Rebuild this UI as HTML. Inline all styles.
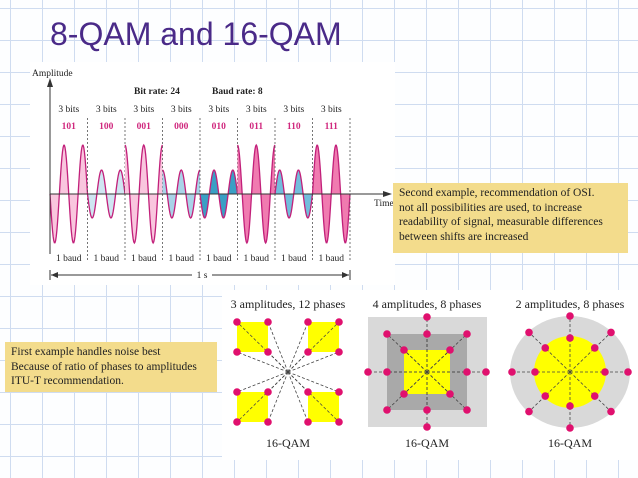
<!DOCTYPE html>
<html><head><meta charset="utf-8"><style>
body{margin:0;width:638px;height:478px;overflow:hidden;background:#fff;font-family:"Liberation Serif",serif}
.grid{position:absolute;left:0;top:0;width:638px;height:478px;background-color:#fdfeff;
background-image:linear-gradient(#cfdcf0 1px,transparent 1px),linear-gradient(90deg,#cfdcf0 1px,transparent 1px);background-size:32px 32px;background-position:10px 8px}
.box{position:absolute;background:#f3dc8c;font-size:11.5px;line-height:14.5px;color:#222;padding:3px 6px;box-sizing:border-box}
h1{position:absolute;left:50px;top:16px;margin:0;font:32px "Liberation Sans",sans-serif;color:#4a2a88}
</style></head><body>
<div class="grid"></div>
<h1>8-QAM and 16-QAM</h1>
<svg id="wave" style="position:absolute;left:0;top:0" width="638" height="478"></svg>
<div class="box" style="left:393px;top:183px;width:235px;height:70px">Second example, recommendation of OSI.<br>not all possibilities are used, to increase readability of signal, measurable differences between shifts are increased</div>
<div class="box" style="left:5px;top:342px;width:212px;height:50px">First example handles noise best<br>Because of ratio of phases to amplitudes<br>ITU-T recommendation.</div>
<script>
const codes=["101","100","001","000","010","011","110","111"];
const amps=[2,1,2,1,1,2,1,2];
const phases=[180,180,90,90,180,90,0,0];
const fills=["#f9c6de","#cfe6f2","#f9c6de","#a9d3e8","#3a9fc4","#f07bb0","#72bddc","#f07bb0"];
const NS="http://www.w3.org/2000/svg";
const svg=document.getElementById('wave');
function mk(t,a,txt){const e=document.createElementNS(NS,t);for(const k in a)e.setAttribute(k,a[k]);if(txt!=null)e.textContent=txt;svg.appendChild(e);return e;}
mk('rect',{x:30,y:62,width:365,height:223,fill:'#fff'});
mk('rect',{x:222,y:290,width:416,height:170,fill:'#fff'});
const x0=50,y0=194,segW=37.5,ampPx=a=>a==2?49:24;
const X=i=>x0+i*segW;
codes.forEach((c,i)=>{
 let d='M'+X(i)+' '+y0;const A=ampPx(amps[i]);
 for(let k=0;k<=60;k++){const t=k/60;const x=X(i)+t*segW;const y=y0-A*Math.sin(phases[i]*Math.PI/180+t*4*Math.PI);d+=' L'+x.toFixed(2)+' '+y.toFixed(2);}
 const f=mk('path',{d:d+' L'+X(i+1)+' '+y0+' Z',fill:fills[i],stroke:'none'});
 
 const l=mk('path',{d:d.replace('M'+X(i)+' '+y0+' L','M'),fill:'none',stroke:'#c2207a','stroke-width':1.3});
 
 mk('line',{x1:X(i+1),y1:118,x2:X(i+1),y2:262,stroke:'#555','stroke-dasharray':'2,2','stroke-width':0.8});
 mk('text',{x:X(i)+segW/2,y:112,'font-size':9.5,'text-anchor':'middle',fill:'#222'},'3 bits');
 const ct=mk('text',{x:X(i)+segW/2,y:129,'font-size':9.5,'font-weight':'bold','text-anchor':'middle',fill:'#d0287e'},c);
 
 mk('text',{x:X(i)+segW/2,y:261,'font-size':9.5,'text-anchor':'middle',fill:'#222'},'1 baud');
});
mk('line',{x1:x0,y1:y0,x2:388,y2:y0,stroke:'#333','stroke-width':1});
mk('path',{d:'M392 194 L383 191 L383 197Z',fill:'#333'});
mk('line',{x1:x0,y1:y0+60,x2:x0,y2:82,stroke:'#333','stroke-width':1});
mk('path',{d:'M50 78 L47 87 L53 87Z',fill:'#333'});
mk('text',{x:32,y:76,'font-size':9.5,fill:'#222'},'Amplitude');
mk('text',{x:374,y:206,'font-size':9.5,fill:'#222'},'Time');
mk('text',{x:134,y:94,'font-size':9.5,'font-weight':'bold',fill:'#222'},'Bit rate: 24');
mk('text',{x:212,y:94,'font-size':9.5,'font-weight':'bold',fill:'#222'},'Baud rate: 8');
mk('line',{x1:51,y1:275,x2:192,y2:275,stroke:'#333'});mk('line',{x1:212,y1:275,x2:349,y2:275,stroke:'#333'});
mk('line',{x1:50,y1:270,x2:50,y2:280,stroke:'#333'});mk('line',{x1:350,y1:270,x2:350,y2:280,stroke:'#333'});
mk('path',{d:'M51 275 L58 272 L58 278Z',fill:'#333'});mk('path',{d:'M349 275 L342 272 L342 278Z',fill:'#333'});
mk('text',{x:202,y:278,'font-size':9.5,'text-anchor':'middle',fill:'#222'},'1 s');
const cy=372,dot='#e0106e';
function pt(x,y){const c=mk('circle',{cx:x,cy:y,r:3.8,fill:dot});}
function dl(x1,y1,x2,y2){mk('line',{x1,y1,x2,y2,stroke:'#444','stroke-dasharray':'3,2','stroke-width':0.8});}
let cx=288;
[[-1,-1],[1,-1],[-1,1],[1,1]].forEach(([sx,sy])=>{
 mk('rect',{x:sx<0?cx-51:cx+20,y:sy<0?cy-50:cy+20,width:31,height:30,fill:'#ffff00'});
 [[20,20],[51,20],[20,50],[51,50]].forEach(([a,b])=>{dl(cx,cy,cx+sx*a,cy+sy*b);});
 [[20,20],[51,20],[20,50],[51,50]].forEach(([a,b])=>pt(cx+sx*a,cy+sy*b));
});
cx=427;
mk('rect',{x:cx-59,y:cy-55,width:119,height:110,fill:'#d9d9d9'});
mk('rect',{x:cx-40,y:cy-38,width:80,height:76,fill:'#a9a9a9'});
mk('rect',{x:cx-23,y:cy-22,width:46,height:44,fill:'#ffff00'});
const p2=[];[[0,-1],[0,1],[-1,0],[1,0]].forEach(([a,b])=>{p2.push([a*(b?0:59),b*55]);p2.push([a*40,b*38]);});
[[-1,-1],[1,-1],[-1,1],[1,1]].forEach(([a,b])=>{p2.push([a*40,b*38]);p2.push([a*23,b*22]);});
p2.forEach(([a,b])=>dl(cx,cy,cx+a,cy+b));p2.forEach(([a,b])=>pt(cx+a,cy+b));
cx=570;
mk('ellipse',{cx,cy,rx:60,ry:56,fill:'#d9d9d9'});
mk('circle',{cx,cy,r:36,fill:'#ffff00'});
for(let k=0;k<8;k++){const an=k*Math.PI/4;dl(cx,cy,cx+58*Math.cos(an),cy+56*Math.sin(an));}
for(let k=0;k<8;k++){const an=k*Math.PI/4;pt(cx+58*Math.cos(an),cy+56*Math.sin(an));pt(cx+35*Math.cos(an),cy+34*Math.sin(an));}
[["3 amplitudes, 12 phases",288],["4 amplitudes, 8 phases",427],["2 amplitudes, 8 phases",570]].forEach(([t,x])=>{
 mk('text',{x,y:308,'font-size':12,'text-anchor':'middle',fill:'#222'},t);
 mk('text',{x,y:447,'font-size':12,'text-anchor':'middle',fill:'#222'},'16-QAM');
});
</script>
</body></html>
